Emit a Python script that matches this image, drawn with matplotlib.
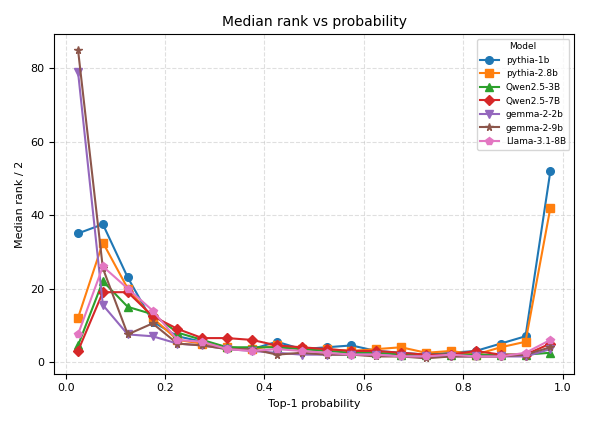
import numpy as np
import matplotlib.pyplot as plt

bins = np.arange(0.025, 1.0, 0.05)

pythia_1b = [35, 37.5, 23, 11, 7, 5.5, 4, 3.5, 5.5, 3.5, 4, 4.5, 3, 2.5, 2, 2.5, 3, 5, 7, 52]
pythia_2_8b = [12, 32.5, 20, 12, 6, 5, 4, 3.5, 4.5, 3.5, 3.5, 3, 3.5, 4, 2.5, 3, 2, 4, 5.5, 42]
qwen_3b = [4.5, 22, 15, 13, 8, 6, 4, 4, 4, 3.5, 3, 2.5, 2.5, 2, 2, 2, 2, 2, 2, 2.5]
qwen_7b = [3, 19, 19, 12.5, 9, 6.5, 6.5, 6, 4.5, 4, 3.5, 3, 3, 2.5, 2, 2, 3, 2, 2, 5]
gemma_2b = [79, 15.5, 7.5, 7, 5, 4.5, 3.5, 3, 2.5, 2, 2, 2, 2, 1.5, 1.5, 1.5, 1.5, 1.5, 1.5, 3.5]
gemma_9b = [85, 25.5, 7.5, 10.5, 5, 4.5, 3.5, 3.5, 2, 2.5, 2, 2, 1.5, 1.5, 1, 1.5, 1.5, 1.5, 2, 4]
llama_8b = [7.5, 26, 20, 14, 6, 5.5, 3.5, 3, 3.5, 3, 2.5, 2, 2, 1.5, 1.5, 2, 1.5, 1.5, 2.5, 6]

series = [
    ('pythia-1b', pythia_1b, 'o'),
    ('pythia-2.8b', pythia_2_8b, 's'),
    ('Qwen2.5-3B', qwen_3b, '^'),
    ('Qwen2.5-7B', qwen_7b, 'D'),
    ('gemma-2-2b', gemma_2b, 'v'),
    ('gemma-2-9b', gemma_9b, '*'),
    ('Llama-3.1-8B', llama_8b, 'p'),
]

fig, ax = plt.subplots(figsize=(5.89, 4.24), dpi=100)
for name, vals, m in series:
    ax.plot(bins, vals, marker=m, markersize=5.5, linewidth=1.5, label=name)
ax.set_xlabel('Top-1 probability', fontsize=8)
ax.set_ylabel('Median rank / 2', fontsize=8)
ax.set_title('Median rank vs probability', fontsize=10)
ax.tick_params(labelsize=8)
ax.grid(True, linestyle='--', alpha=0.4)
leg = ax.legend(title='Model', fontsize=6.5, title_fontsize=6.5, loc='upper right')
fig.tight_layout()
fig.savefig('out.png')
